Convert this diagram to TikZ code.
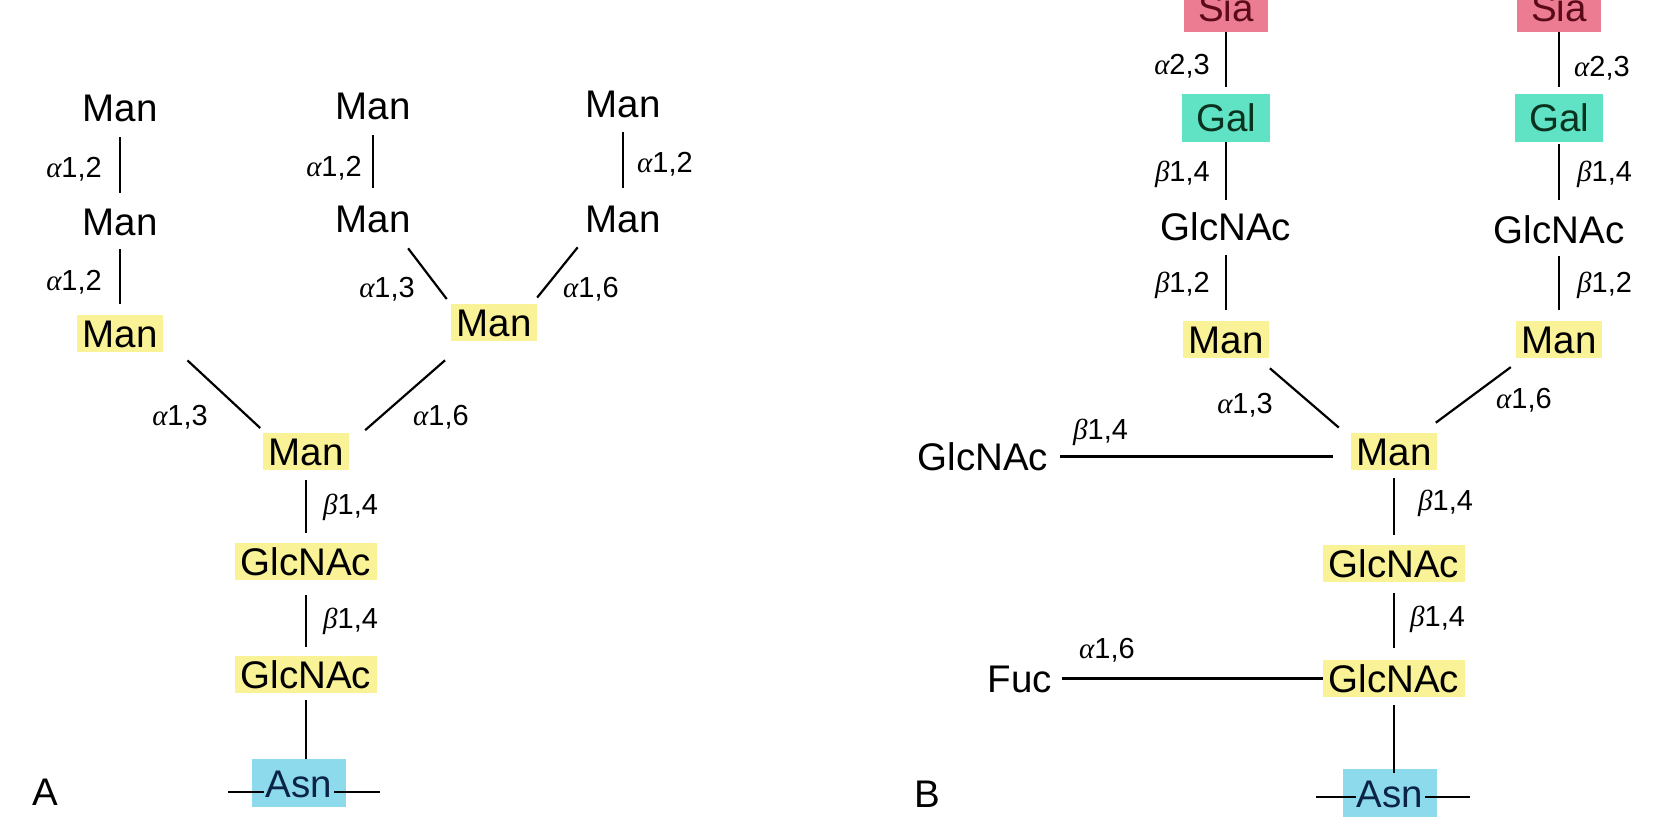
\documentclass[tikz,border=0pt]{standalone}
\usepackage{fontspec}
\setmainfont{Liberation Sans}
\newfontfamily\grk{Liberation Serif}
\newcommand{\myalpha}{{\grk\itshape α}}
\newcommand{\mybeta}{{\grk\itshape β}}
\definecolor{hlyel}{RGB}{250,242,150}
\definecolor{hlcyan}{RGB}{140,218,235}
\definecolor{hlpink}{RGB}{236,124,146}
\definecolor{hlgreen}{RGB}{96,226,196}
\definecolor{asntext}{RGB}{10,35,70}
\definecolor{galtext}{RGB}{10,50,30}
\definecolor{siatext}{RGB}{90,10,25}
\begin{document}
\begin{tikzpicture}[x=1pt,y=-1pt,
  sugar/.style={font=\fontsize{38.5}{40}\selectfont, inner xsep=6pt, inner ysep=5pt, text height=27pt, text depth=0pt, anchor=base},
  hl/.style={sugar, fill=hlyel},
  colbox/.style={sugar, inner xsep=14pt, inner ysep=10pt, text height=28pt},
  bond/.style={line width=2.2pt},
  lab/.style={font=\fontsize{29}{31}\selectfont, inner sep=0pt},
]
\useasboundingbox (0,0) rectangle (1666,832);
\clip (0,0) rectangle (1666,832);
\fill[white] (0,0) rectangle (1666,832);

% ---------- Panel A ----------
\node[sugar] (mA1) at (120,122) {Man};
\node[sugar] (mA2) at (120,235) {Man};
\node[hl]    (mA3) at (120,347) {Man};
\node[sugar] (mA4) at (373,120) {Man};
\node[sugar] (mA5) at (373,232) {Man};
\node[sugar] (mA6) at (623,118) {Man};
\node[sugar] (mA7) at (623,232) {Man};
\node[hl]    (mA8) at (494,336) {Man};
\node[hl]    (mA9) at (306,465) {Man};
\node[hl]    (gA1) at (306,575) {GlcNAc};
\node[hl]    (gA2) at (306,688) {GlcNAc};
\node[colbox, fill=hlcyan, text=asntext] (asnA) at (299,797) {Asn};
\node[sugar] (labA) at (45,805) {A};

\draw[bond, shorten <=10pt, shorten >=10pt] (mA1) -- (mA2);
\draw[bond, shorten <=9pt, shorten >=11pt] (mA2) -- (mA3);
\draw[bond, shorten <=10pt, shorten >=12pt] (mA4) -- (mA5);
\draw[bond, shorten <=9pt, shorten >=12pt] (mA6) -- (mA7);
\draw[bond, shorten <=14pt, shorten >=6pt] ([xshift=-17pt]mA5.south east) -- (mA8.north west);
\draw[bond, shorten <=13pt, shorten >=8pt] ([xshift=6.5pt]mA7.south west) -- ([xshift=-5.5pt]mA8.north east);
\draw[bond, shorten <=12pt, shorten >=7pt] ([xshift=15pt]mA3.south east) -- ([xshift=3pt]mA9.north west);
\draw[bond, shorten <=29pt, shorten >=4pt] ([xshift=16.5pt]mA8.south west) -- ([xshift=12.5pt]mA9.north east);
\draw[bond, shorten <=10pt, shorten >=10pt] (mA9) -- (gA1);
\draw[bond, shorten <=15pt, shorten >=9pt] (gA1) -- (gA2);
\draw[bond, shorten <=7pt] (gA2.south) -- (gA2.south |- asnA.north);
\coordinate (aL) at (228,792);
\coordinate (aR) at (380,792);
\draw[bond] (aL) -- ++(36,0);
\draw[bond] (aR) -- ++(-46,0);

\node[lab, anchor=base east] (bA1) at (102,178) {\myalpha1,2};
\node[lab, anchor=base east] (bA2) at (102,290) {\myalpha1,2};
\node[lab, anchor=base east] (bA3) at (362,177) {\myalpha1,2};
\node[lab, anchor=base west] (bA4) at (637,173) {\myalpha1,2};
\node[lab, anchor=base east] (bA5) at (415,297) {\myalpha1,3};
\node[lab, anchor=base west] (bA6) at (563,297) {\myalpha1,6};
\node[lab, anchor=base east] (bA7) at (208,425) {\myalpha1,3};
\node[lab, anchor=base west] (bA8) at (413,425) {\myalpha1,6};
\node[lab, anchor=base west] (bA9) at (323,514) {\mybeta1,4};
\node[lab, anchor=base west] (bA10) at (323,628) {\mybeta1,4};

% ---------- Panel B ----------
\node[colbox, fill=hlpink, text=siatext] (siaL) at (1226,22) {Sia};
\node[colbox, fill=hlgreen, text=galtext] (galL) at (1226,132) {Gal};
\node[sugar] (glcL) at (1226,240) {GlcNAc};
\node[hl]    (manL) at (1226,353) {Man};
\node[colbox, fill=hlpink, text=siatext] (siaR) at (1559,22) {Sia};
\node[colbox, fill=hlgreen, text=galtext] (galR) at (1559,132) {Gal};
\node[sugar] (glcR) at (1559,243) {GlcNAc};
\node[hl]    (manR) at (1559,353) {Man};
\node[hl]    (manC) at (1394,465) {Man};
\node[sugar] (glcX) at (983,470) {GlcNAc};
\node[hl]    (glcC1) at (1394,577) {GlcNAc};
\node[hl]    (glcC2) at (1394,692) {GlcNAc};
\node[sugar] (fuc) at (1020,692) {Fuc};
\node[colbox, fill=hlcyan, text=asntext] (asnB) at (1390,807) {Asn};
\node[sugar] (labB) at (927,807) {B};

\draw[bond, shorten >=7pt] (siaL) -- (galL);
\draw[bond, shorten >=8pt] (galL) -- (glcL);
\draw[bond, shorten <=10pt, shorten >=11pt] (glcL) -- (manL);
\draw[bond, shorten >=7pt] (siaR) -- (galR);
\draw[bond, shorten <=2pt, shorten >=11pt] (galR) -- (glcR);
\draw[bond, shorten <=8pt, shorten >=11pt] (glcR) -- (manR);
\draw[bond, shorten <=15.5pt, shorten >=8pt] ([xshift=-11.5pt]manL.south east) -- ([xshift=-5.5pt]manC.north west);
\draw[bond, shorten <=15pt, shorten >=17pt] ([xshift=7.5pt]manR.south west) -- ([xshift=-15.5pt]manC.north east);
\draw[bond, shorten <=6pt, shorten >=17.5pt] (glcX.east) -- (glcX.east -| manC.west);
\draw[bond, shorten <=8pt, shorten >=10pt] (manC) -- (glcC1);
\draw[bond, shorten <=11pt, shorten >=12pt] (glcC1) -- (glcC2);
\draw[bond, shorten <=4pt] (fuc.east) -- (fuc.east -| glcC2.west);
\draw[bond, shorten <=8pt, shorten >=-4pt] (glcC2.south) -- (glcC2.south |- asnB.north);
\coordinate (bL) at (1316,797);
\coordinate (bR) at (1470,797);
\draw[bond] (bL) -- ++(40,0);
\draw[bond] (bR) -- ++(-45,0);

\node[lab, anchor=base east] (bB1) at (1210,75) {\myalpha2,3};
\node[lab, anchor=base west] (bB2) at (1574,77) {\myalpha2,3};
\node[lab, anchor=base east] (bB3) at (1210,182) {\mybeta1,4};
\node[lab, anchor=base west] (bB4) at (1577,182) {\mybeta1,4};
\node[lab, anchor=base east] (bB5) at (1210,292) {\mybeta1,2};
\node[lab, anchor=base west] (bB6) at (1577,292) {\mybeta1,2};
\node[lab, anchor=base east] (bB7) at (1273,413) {\myalpha1,3};
\node[lab, anchor=base west] (bB8) at (1496,408) {\myalpha1,6};
\node[lab, anchor=base west] (bB9) at (1073,439) {\mybeta1,4};
\node[lab, anchor=base west] (bB10) at (1418,510) {\mybeta1,4};
\node[lab, anchor=base west] (bB11) at (1410,626) {\mybeta1,4};
\node[lab, anchor=base west] (bB12) at (1079,658) {\myalpha1,6};
\end{tikzpicture}
\end{document}
